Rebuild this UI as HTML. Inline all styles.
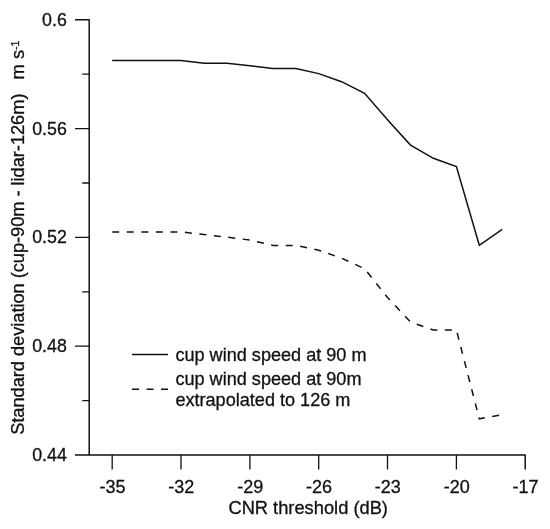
<!DOCTYPE html>
<html><head><meta charset="utf-8"><title>Standard deviation vs CNR threshold</title>
<style>
html,body{margin:0;padding:0;background:#fff;}
body{width:550px;height:529px;overflow:hidden;}
svg{display:block;}
text{font-family:"Liberation Sans",Arial,Helvetica,sans-serif;font-size:18.3px;fill:#111;stroke:#111;stroke-width:0.3px;}
.yl text{font-size:17.8px;}
.xl text{font-size:18px;}
text.lg{font-size:18.1px;}
</style></head><body>
<svg xmlns="http://www.w3.org/2000/svg" width="550" height="529" viewBox="0 0 550 529">
<rect width="550" height="529" fill="#fff"/>
<g stroke="#111" stroke-width="1.5" fill="none" stroke-linecap="butt">
<!-- axes -->
<path d="M75 19.8H89.2V455" stroke-linejoin="round"/>
<path d="M75 455H525.2V469.6" stroke-linejoin="round"/>
<!-- y ticks -->
<path d="M75 128.6H89.2M75 237.4H89.2M75 346.2H89.2" stroke-width="1.3"/>
<path d="M82.3 74.2H89.2M82.3 183H89.2M82.3 291.8H89.2M82.3 400.6H89.2" stroke-width="1.3"/>
<!-- x ticks -->
<path d="M112.2 455V469.6M181.0 455V469.6M249.9 455V469.6M318.7 455V469.6M387.5 455V469.6M456.4 455V469.6" stroke-width="1.3"/>
<!-- solid series -->
<polyline stroke-width="1.5" stroke-linejoin="miter" points="112.2,60.4 135.1,60.4 158.1,60.4 181.0,60.4 204.0,63.2 226.9,63.2 249.9,65.8 272.8,68.5 295.8,68.4 318.7,73.6 341.6,81.7 364.6,93.3 387.5,119.7 410.5,145.1 433.4,158.3 456.4,166.6 479.3,245.3 502.2,229.4"/>
<!-- dashed series -->
<polyline stroke-width="1.5" stroke-dasharray="7 7.55" points="112.2,231.9 135.1,231.9 158.1,231.9 181.0,231.9 204.0,234.6 226.9,237.2 249.9,240 272.8,245.4 295.8,245.4 318.7,250.2 341.6,258.2 364.6,268.7 387.5,297.5 410.5,322 433.4,330 456.4,330 479.3,418.8 502.2,414.7"/>
<!-- legend -->
<path d="M132 354.6H168"/>
<path d="M132 389.2H168" stroke-dasharray="7 7.55"/>
</g>
<g class="yl" text-anchor="end">
<text x="66.8" y="25.8">0.6</text>
<text x="66.8" y="134.6">0.56</text>
<text x="66.8" y="243.4">0.52</text>
<text x="66.8" y="352.2">0.48</text>
<text x="66.8" y="461.0">0.44</text>
</g>
<g class="xl" text-anchor="middle">
<text x="112.5" y="492.8">-35</text>
<text x="181.3" y="492.8">-32</text>
<text x="250.2" y="492.8">-29</text>
<text x="319.0" y="492.8">-26</text>
<text x="387.8" y="492.8">-23</text>
<text x="456.7" y="492.8">-20</text>
<text x="525.5" y="492.8">-17</text>
<text x="308.2" y="514" style="font-size:18.3px">CNR threshold (dB)</text>
</g>
<text class="lg" x="175.4" y="361.3">cup wind speed at 90 m</text>
<text class="lg" x="175.4" y="384.5">cup wind speed at 90m</text>
<text class="lg" x="175.4" y="405.5">extrapolated to 126 m</text>
<text transform="translate(24.3 434.8) rotate(-90)" textLength="341.3" lengthAdjust="spacing">Standard deviation (cup-90m - lidar-126m)</text>
<text transform="translate(24.3 79.4) rotate(-90)">m</text>
<text transform="translate(24.3 59) rotate(-90)">s</text>
<text transform="translate(18.8 50) rotate(-90)" style="font-size:10.5px">-1</text>
</svg>
</body></html>
